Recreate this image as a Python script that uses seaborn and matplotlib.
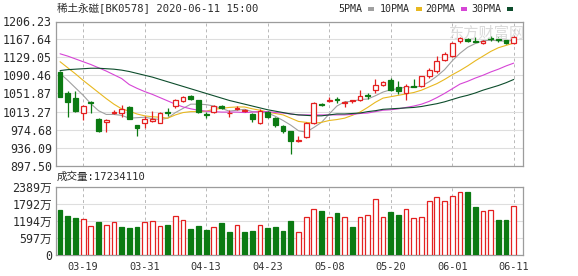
import numpy as np
import pandas as pd
import matplotlib
matplotlib.use("Agg")
import matplotlib.pyplot as plt
from matplotlib.patches import Rectangle
import seaborn as sns

# ---------------- data ----------------
dates = ["03-16", "03-17", "03-18", "03-19", "03-20", "03-23", "03-24", "03-25", "03-26", "03-27",
         "03-30", "03-31", "04-01", "04-02", "04-03", "04-07", "04-08", "04-09", "04-10", "04-13",
         "04-14", "04-15", "04-16", "04-17", "04-20", "04-21", "04-22", "04-23", "04-24", "04-27",
         "04-28", "04-29", "04-30", "05-06", "05-07", "05-08", "05-11", "05-12", "05-13", "05-14",
         "05-15", "05-18", "05-19", "05-20", "05-21", "05-22", "05-25", "05-26", "05-27", "05-28",
         "05-29", "06-01", "06-02", "06-03", "06-04", "06-05", "06-08", "06-09", "06-10", "06-11"]

open_ = [1098, 1053, 1043, 1009, 1034, 998, 990, 1011, 1009, 1022,
         984, 989, 992, 989, 1013, 1025, 1036, 1046, 1038, 1007,
         1013, 1024, 1009, 1018, 1014, 1008, 989, 1012, 1000, 983,
         971, 950, 959, 988, 1030, 1036, 1040, 1032, 1035, 1038,
         1049, 1060, 1071, 1080, 1066, 1053, 1068, 1067, 1089, 1100,
         1124, 1132, 1164, 1168, 1165, 1161, 1171, 1169, 1166, 1161]
high = [1101, 1058, 1057, 1027, 1035, 999, 998, 1016, 1027, 1024,
        985, 1003, 1014, 1012, 1020, 1040, 1047, 1048, 1038, 1012,
        1027, 1028, 1016, 1024, 1019, 1010, 1018, 1014, 1001, 984,
        972, 960, 990, 1033, 1032, 1044, 1045, 1036, 1039, 1060,
        1053, 1084, 1078, 1085, 1078, 1072, 1084, 1090, 1106, 1132,
        1140, 1162, 1172, 1170, 1173, 1167, 1175, 1173, 1167, 1175]
low = [1044, 1002, 1013, 996, 1009, 969, 969, 1008, 1002, 997,
       960, 977, 990, 988, 1004, 1021, 1034, 1039, 1010, 1000,
       1011, 1018, 1002, 1016, 1012, 991, 987, 999, 981, 968,
       923, 948, 957, 986, 1026, 1033, 1032, 1022, 1031, 1036,
       1040, 1052, 1069, 1058, 1050, 1038, 1065, 1066, 1086, 1096,
       1122, 1130, 1160, 1162, 1162, 1159, 1165, 1162, 1157, 1158]
close = [1045, 1034, 1015, 1025, 1031, 971, 995, 1013, 1018, 998,
         977, 998, 998, 1010, 1011, 1038, 1045, 1041, 1012, 1005,
         1024, 1020, 1011, 1020, 1016, 998, 1015, 1001, 984, 971,
         950, 953, 988, 1031, 1028, 1039, 1037, 1034, 1037, 1046,
         1046, 1070, 1076, 1060, 1058, 1067, 1066, 1089, 1103, 1121,
         1137, 1160, 1170, 1165, 1163, 1165, 1168, 1166, 1160, 1173]

# volume in 万 (10k)
volume = [1584, 1374, 1294, 1259, 1025, 1140, 1060, 1165, 965, 930,
          965, 1140, 1200, 1025, 1035, 1374, 1235, 895, 1000, 874,
          990, 1105, 790, 1060, 790, 825, 1060, 930, 990, 825,
          1170, 815, 1340, 1608, 1549, 1340, 1455, 1340, 990, 1340,
          1409, 1958, 1340, 1490, 1409, 1608, 1294, 1340, 1899, 2039,
          1899, 2074, 2214, 2214, 1665, 1525, 1573, 1234, 1234, 1723]
vol_up = [0, 0, 0, 1, 1, 0, 1, 1, 0, 0,
          0, 1, 1, 1, 0, 1, 1, 0, 0, 0,
          1, 0, 0, 1, 0, 0, 1, 0, 0, 0,
          0, 1, 1, 1, 0, 1, 0, 1, 0, 1,
          1, 1, 1, 0, 0, 1, 1, 1, 1, 1,
          1, 1, 1, 0, 0, 1, 1, 0, 0, 1]

ma5 = [1095, 1080, 1064, 1048, 1030, 1015, 1007, 1007, 1005, 999,
       1000, 1001, 998, 996, 999, 1011, 1020, 1029, 1029, 1028,
       1025, 1020, 1014, 1016, 1018, 1013, 1012, 1010, 1003, 994,
       984, 972, 969, 979, 990, 1008, 1025, 1034, 1035, 1039,
       1040, 1047, 1055, 1060, 1062, 1066, 1065, 1068, 1077, 1089,
       1103, 1122, 1138, 1151, 1159, 1165, 1166, 1165, 1164, 1166]
ma10 = [1120, 1107, 1094, 1080, 1067, 1054, 1041, 1029, 1019, 1014,
        1008, 1004, 1002, 1001, 999, 1006, 1011, 1013, 1013, 1014,
        1018, 1020, 1022, 1023, 1023, 1019, 1016, 1012, 1009, 1006,
        999, 992, 990, 988, 990, 994, 996, 999, 1005, 1012,
        1022, 1033, 1042, 1045, 1048, 1051, 1054, 1059, 1066, 1073,
        1082, 1092, 1101, 1111, 1122, 1132, 1142, 1150, 1155, 1160]
ma20 = [1137, 1132, 1126, 1120, 1114, 1107, 1100, 1092, 1084, 1071,
        1063, 1056, 1050, 1043, 1036, 1029, 1023, 1019, 1016, 1014,
        1013, 1012, 1012, 1012, 1011, 1012, 1013, 1013, 1011, 1010,
        1008, 1006, 1006, 1006, 1006, 1006, 1006, 1006, 1007, 1009,
        1010, 1013, 1016, 1017, 1019, 1022, 1025, 1029, 1035, 1043,
        1052, 1062, 1072, 1078, 1085, 1091, 1098, 1104, 1111, 1117]
ma30 = [1101, 1103, 1104, 1105, 1106, 1106, 1105, 1104, 1102, 1099,
        1095, 1091, 1087, 1082, 1077, 1072, 1067, 1062, 1057, 1052,
        1047, 1042, 1037, 1033, 1029, 1025, 1021, 1017, 1014, 1011,
        1008, 1006, 1005, 1004, 1004, 1006, 1008, 1008, 1009, 1010,
        1013, 1015, 1018, 1019, 1020, 1021, 1022, 1024, 1027, 1030,
        1034, 1039, 1044, 1048, 1053, 1059, 1064, 1069, 1075, 1082]

tick_dates = ["03-19", "03-31", "04-13", "04-23", "05-08", "05-20", "06-01", "06-11"]
price_ticks = [897.50, 936.09, 974.68, 1013.27, 1051.87, 1090.46, 1129.05, 1167.64, 1206.23]
vol_ticks = [0, 597, 1194, 1792, 2389]
vol_tick_labels = ["0", "597万", "1194万", "1792万", "2389万"]
ma_names = ["5PMA", "10PMA", "20PMA", "30PMA"]
title_text = "稀土永磁[BK0578] 2020-06-11 15:00"
vol_label = "成交量:17234110"

# ---------------- style ----------------
sns.set_theme(style="white")
plt.rcParams['font.family'] = ['DejaVu Sans Mono', 'Noto Sans CJK SC']

RED = "#e42020"
GREEN = "#0b7a12"
MA_COLORS = ["#a0a0a0", "#e8b820", "#d645d6", "#0d4d2c"]
GRID = "#dedede"
VGRID = "#b8b8b8"
SPINE = "#9c9c9c"
TXT = "#2a2a2a"

W, H = 578, 276
fig = plt.figure(figsize=(W / 100, H / 100), dpi=100)


def box(l, t, r, b):
    return [l / W, 1 - b / H, (r - l) / W, (b - t) / H]


ax = fig.add_axes(box(56, 21.5, 523, 165.5))
axv = fig.add_axes(box(56, 186.5, 523, 255))

x = np.arange(len(dates))
o = np.array(open_, float)
c = np.array(close, float)
hi = np.array(high, float)
lo = np.array(low, float)
up = c >= o
body_lo = np.minimum(o, c)
body_hi = np.maximum(o, c)
body_h = np.maximum(body_hi - body_lo, 0.6)
bw = 0.62

# grid
for a in (ax, axv):
    a.set_xlim(-0.53, 60.2)
    for d in tick_dates:
        a.axvline(dates.index(d), color=VGRID, lw=0.7, ls=(0, (3, 3)), zorder=0)
    for s in a.spines.values():
        s.set_color(SPINE)
        s.set_linewidth(0.9)

ax.set_ylim(price_ticks[0], price_ticks[-1])
ax.set_yticks(price_ticks)
ax.set_yticklabels([f"{v:.2f}" for v in price_ticks])
ax.yaxis.grid(True, color=GRID, lw=0.8, zorder=0)
ax.set_xticks([])

# moving averages via seaborn
ma_df = pd.DataFrame({"x": np.tile(x, 4),
                      "value": np.concatenate([ma5, ma10, ma20, ma30]),
                      "ma": np.repeat(ma_names, len(x))})
sns.lineplot(data=ma_df, x="x", y="value", hue="ma", palette=MA_COLORS,
             hue_order=ma_names, linewidth=0.8, legend=False, ax=ax, zorder=2)

# wicks
ax.vlines(x[up], lo[up], body_lo[up], color=RED, lw=0.9, zorder=3)
ax.vlines(x[up], body_hi[up], hi[up], color=RED, lw=0.9, zorder=3)
ax.vlines(x[~up], lo[~up], hi[~up], color=GREEN, lw=0.9, zorder=3)
# bodies
ax.bar(x[up], body_h[up], bottom=body_lo[up], width=bw, facecolor="white",
       edgecolor=RED, linewidth=0.9, zorder=4)
ax.bar(x[~up], body_h[~up], bottom=body_lo[~up], width=bw, facecolor=GREEN,
       edgecolor=GREEN, linewidth=0.9, zorder=4)
ax.set_xlabel("")
ax.set_ylabel("")

# volume
v = np.array(volume, float)
vu = np.array(vol_up, bool)
axv.bar(x[vu], v[vu], width=bw, facecolor="white", edgecolor=RED, linewidth=0.9, zorder=3)
axv.bar(x[~vu], v[~vu], width=bw, facecolor=GREEN, edgecolor=GREEN, linewidth=0.9, zorder=3)
axv.set_ylim(0, 2389)
axv.set_yticks(vol_ticks)
axv.set_yticklabels(vol_tick_labels)
axv.yaxis.grid(True, color=GRID, lw=0.8, zorder=0)
axv.set_xticks([dates.index(d) for d in tick_dates])
axv.set_xticklabels(tick_dates)

ax.tick_params(axis="y", length=0, pad=3, labelsize=8.4, labelcolor=TXT)
axv.tick_params(axis="y", length=0, pad=3, labelsize=8.4, labelcolor=TXT)
axv.tick_params(axis="x", length=0, pad=5, labelsize=7.4, labelcolor="#333333")

# title, legend, labels
fig.text(57 / W, 1 - 8.5 / H, title_text, fontsize=7.6, color=TXT,
         ha="left", va="center")
fig.text(57 / W, 1 - 176.5 / H, vol_label, fontsize=7.6, color=TXT,
         ha="left", va="center")

leg_x = [338, 380, 425, 471]
sw_x = [368, 416, 461, 507]
for name, lx, sx, col in zip(ma_names, leg_x, sw_x, MA_COLORS):
    fig.text(lx / W, 1 - 9 / H, name, fontsize=7.2, color=TXT,
             ha="left", va="center")
    fig.add_artist(Rectangle((sx / W, 1 - 10.5 / H), 6 / W, 3 / H,
                             transform=fig.transFigure, facecolor=col,
                             edgecolor="none"))

# watermark
fig.text(487 / W, 1 - 33 / H, "东方财富网", fontsize=11, color="#dadada",
         ha="center", va="center", family=["Noto Sans CJK SC"], zorder=1)

fig.savefig("out.png", dpi=100, facecolor="white")
